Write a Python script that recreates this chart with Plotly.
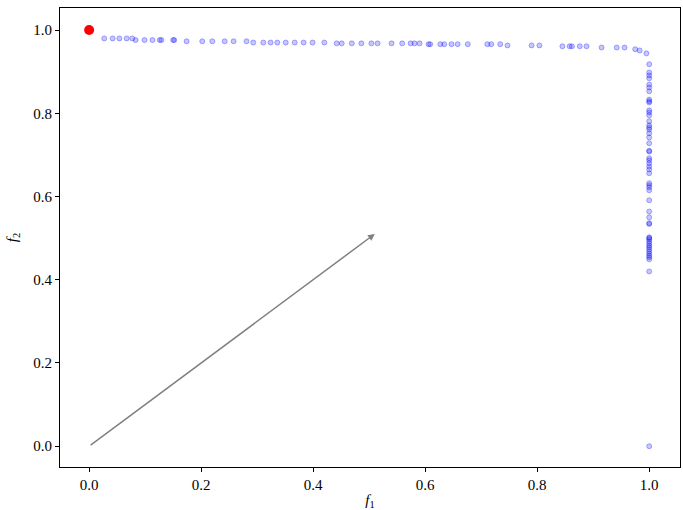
import plotly.graph_objects as go

# Top row of front (f1 varies, f2 near 1)
top_f1 = [0.027, 0.042, 0.054, 0.067, 0.077, 0.083, 0.099, 0.113, 0.126, 0.129,
          0.150, 0.152, 0.174, 0.202, 0.220, 0.242, 0.258, 0.281, 0.293, 0.311,
          0.324, 0.336, 0.351, 0.367, 0.383, 0.399, 0.420, 0.442, 0.451, 0.469,
          0.486, 0.504, 0.515, 0.540, 0.559, 0.574, 0.581, 0.590, 0.606, 0.609,
          0.627, 0.634, 0.647, 0.658, 0.676, 0.711, 0.718, 0.734, 0.747, 0.790,
          0.804, 0.845, 0.858, 0.862, 0.876, 0.888, 0.915, 0.942, 0.956, 0.975,
          0.983, 0.995]
top_f2 = [0.980, 0.980, 0.980, 0.980, 0.980, 0.976, 0.976, 0.976, 0.976, 0.976,
          0.976, 0.976, 0.973, 0.973, 0.973, 0.973, 0.973, 0.973, 0.970, 0.970,
          0.970, 0.970, 0.970, 0.970, 0.970, 0.970, 0.970, 0.968, 0.968, 0.968,
          0.968, 0.968, 0.968, 0.968, 0.968, 0.968, 0.968, 0.968, 0.966, 0.966,
          0.966, 0.966, 0.966, 0.966, 0.966, 0.966, 0.966, 0.966, 0.963, 0.963,
          0.963, 0.961, 0.961, 0.961, 0.961, 0.961, 0.958, 0.958, 0.958, 0.954,
          0.951, 0.944]

# Right column of front (f1 = 1)
right_f2 = [0.918, 0.898, 0.891, 0.884, 0.869, 0.862, 0.853, 0.833, 0.829, 0.826,
            0.807, 0.802, 0.795, 0.781, 0.771, 0.766, 0.761, 0.752, 0.742, 0.728,
            0.710, 0.708, 0.692, 0.687, 0.680, 0.672, 0.665, 0.656, 0.632, 0.627,
            0.622, 0.615, 0.591, 0.564, 0.550, 0.536, 0.534, 0.502, 0.500, 0.497,
            0.492, 0.487, 0.482, 0.478, 0.473, 0.468, 0.463, 0.458, 0.454, 0.449,
            0.420, 0.0]
right_f1 = [1.0] * len(right_f2)

# Highlighted point
best_f1 = [0.0]
best_f2 = [1.0]

# Direction arrow (start -> end)
arrow_start = (0.0, 0.0)
arrow_end = (0.51, 0.51)

FONT = "Liberation Serif"

fig = go.Figure()
fig.add_trace(go.Scatter(
    x=top_f1 + right_f1, y=top_f2 + right_f2, mode="markers",
    marker=dict(size=5, color="rgba(0,0,255,0.22)",
                line=dict(width=1, color="rgba(0,0,255,0.3)")),
    showlegend=False, hoverinfo="skip"))
fig.add_trace(go.Scatter(
    x=best_f1, y=best_f2, mode="markers",
    marker=dict(size=10, color="#ff0000", line=dict(width=0)),
    showlegend=False))

fig.add_annotation(x=arrow_end[0], y=arrow_end[1], ax=arrow_start[0], ay=arrow_start[1],
                   xref="x", yref="y", axref="x", ayref="y", text="",
                   showarrow=True, arrowhead=2, arrowsize=0.9, arrowwidth=1.5,
                   arrowcolor="gray")

axis_common = dict(showgrid=False, zeroline=False, showline=True, linecolor="black",
                   linewidth=1, mirror=True, ticks="outside", ticklen=4,
                   tickcolor="black", tickformat=".1f", dtick=0.2,
                   automargin=False,
                   tickfont=dict(family=FONT, size=15, color="black"))

fig.update_xaxes(range=[-0.052, 1.055], tick0=0,
                 title=dict(text="<i>f</i><sub>1</sub>", standoff=12,
                            font=dict(family=FONT, size=15, color="black")),
                 **axis_common)
fig.update_yaxes(range=[-0.05, 1.053], tick0=0,
                 title=dict(text="<i>f</i><sub>2</sub>", standoff=12,
                            font=dict(family=FONT, size=15, color="black")),
                 **axis_common)

fig.update_layout(width=683, height=510, margin=dict(l=60, r=3, t=8, b=43),
                  plot_bgcolor="white", paper_bgcolor="white",
                  font=dict(family=FONT, color="black"))

fig.write_html("out.html", config={"displayModeBar": False},
               post_script="document.body.style.margin='0';document.body.style.padding='0';")
